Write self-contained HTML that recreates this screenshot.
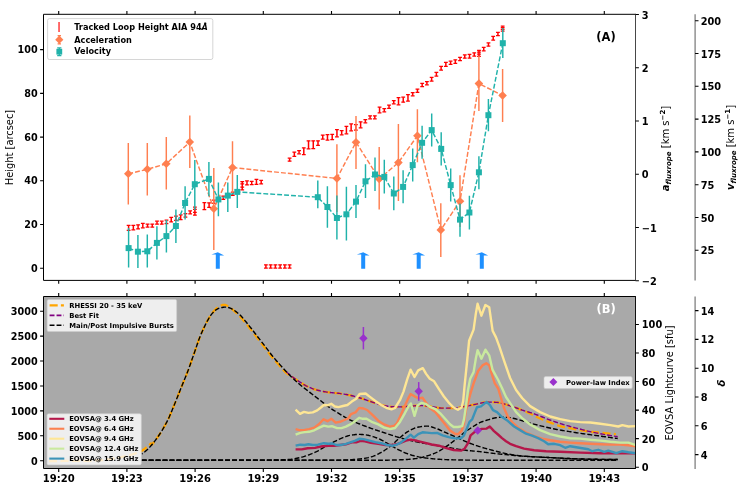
<!DOCTYPE html>
<html><head><meta charset="utf-8"><title>Figure</title><style>html,body{margin:0;padding:0;background:#fff}svg{display:block}</style></head><body>
<svg width="748" height="491" viewBox="0 0 748 491" font-family="DejaVu Sans, Liberation Sans, sans-serif">
<rect width="748" height="491" fill="#fff"/>
<g stroke="#ff0000" stroke-width="1.4" fill="none">
<path d="M128.6,225.25V230.45M133.34,225.35V229.95M138.07,224.75V228.95M142.81,223.35V227.75M147.54,224.05V227.05M152.28,224.05V227.05M157.01,221.15V224.15M161.75,221.15V224.15M166.48,220.05V223.65M171.22,217.35V221.95M175.95,216.15V220.35M180.69,214.95V219.55M185.42,213.65V217.05M190.16,210.95V213.95M194.89,207.15V215.15M204.36,202.55V209.55M209.09,202.85V207.45M213.83,200.15V203.35M218.56,198.15V201.35M223.3,196.15V199.35M228.03,194.15V197.35M232.77,192.15V195.35M237.5,190.15V193.35M242.24,181.55V189.95M246.98,180.95V184.95M251.71,181.35V184.55M256.44,179.45V184.25M261.18,180.35V183.95M294.33,152.05V156.25M299.06,150.65V153.85M303.8,147.85V154.65M308.53,140.75V148.95M313.26,140.75V148.55M318,140.75V145.35M322.74,135.05V139.05M327.47,134.65V140.05M332.21,134.25V139.65M336.94,129.55V136.75M341.68,130.65V134.85M346.41,126.35V133.75M351.14,123.95V130.75M355.88,124.65V130.05M360.62,121.75V127.75M365.35,119.65V122.85M370.09,115.75V118.75M374.82,115.75V118.75M379.56,107.05V112.85M384.29,108.55V111.75M389.02,105.05V108.25M393.76,100.55V103.75M398.5,97.65V104.85M403.23,97.15V102.15M407.97,94.65V101.05M412.7,92.55V95.75M417.44,89.05V92.25M422.17,83.45V86.65M426.9,81.65V84.85M431.64,77.45V81.05M436.38,72.45V76.05M441.11,66.45V70.05M445.85,62.25V66.45M450.58,61.15V64.35M455.32,59.85V63.45M460.05,57.35V60.55M464.78,54.95V58.15M469.52,54.45V58.05M474.25,52.85V56.05M478.99,50.25V56.25M483.73,47.45V50.85M488.46,42.95V46.15M493.2,36.45V40.05M497.93,32.25V35.65M502.66,26.15V31.15M289.6,158.2V161.2M502.66,27.7V29.3M478.99,52V54M194.89,209.4V212.4M242.24,183.9V187.1M265.91,264.8V268M270.65,264.8V268M275.38,264.8V268M280.12,264.8V268M284.86,264.8V268M289.59,264.8V268" stroke-width="1.5"/>
<path d="M126.7,225.25h3.8M126.7,230.45h3.8M131.44,225.35h3.8M131.44,229.95h3.8M136.17,224.75h3.8M136.17,228.95h3.8M140.91,223.35h3.8M140.91,227.75h3.8M145.64,224.05h3.8M145.64,227.05h3.8M150.38,224.05h3.8M150.38,227.05h3.8M155.11,221.15h3.8M155.11,224.15h3.8M159.84,221.15h3.8M159.84,224.15h3.8M164.58,220.05h3.8M164.58,223.65h3.8M169.31,217.35h3.8M169.31,221.95h3.8M174.05,216.15h3.8M174.05,220.35h3.8M178.78,214.95h3.8M178.78,219.55h3.8M183.52,213.65h3.8M183.52,217.05h3.8M188.25,210.95h3.8M188.25,213.95h3.8M192.99,207.15h3.8M192.99,215.15h3.8M202.46,202.55h3.8M202.46,209.55h3.8M207.19,202.85h3.8M207.19,207.45h3.8M211.93,200.15h3.8M211.93,203.35h3.8M216.66,198.15h3.8M216.66,201.35h3.8M221.4,196.15h3.8M221.4,199.35h3.8M226.13,194.15h3.8M226.13,197.35h3.8M230.87,192.15h3.8M230.87,195.35h3.8M235.6,190.15h3.8M235.6,193.35h3.8M240.34,181.55h3.8M240.34,189.95h3.8M245.08,180.95h3.8M245.08,184.95h3.8M249.81,181.35h3.8M249.81,184.55h3.8M254.54,179.45h3.8M254.54,184.25h3.8M259.28,180.35h3.8M259.28,183.95h3.8M292.43,152.05h3.8M292.43,156.25h3.8M297.16,150.65h3.8M297.16,153.85h3.8M301.9,147.85h3.8M301.9,154.65h3.8M306.63,140.75h3.8M306.63,148.95h3.8M311.37,140.75h3.8M311.37,148.55h3.8M316.1,140.75h3.8M316.1,145.35h3.8M320.84,135.05h3.8M320.84,139.05h3.8M325.57,134.65h3.8M325.57,140.05h3.8M330.31,134.25h3.8M330.31,139.65h3.8M335.04,129.55h3.8M335.04,136.75h3.8M339.78,130.65h3.8M339.78,134.85h3.8M344.51,126.35h3.8M344.51,133.75h3.8M349.25,123.95h3.8M349.25,130.75h3.8M353.98,124.65h3.8M353.98,130.05h3.8M358.72,121.75h3.8M358.72,127.75h3.8M363.45,119.65h3.8M363.45,122.85h3.8M368.19,115.75h3.8M368.19,118.75h3.8M372.92,115.75h3.8M372.92,118.75h3.8M377.66,107.05h3.8M377.66,112.85h3.8M382.39,108.55h3.8M382.39,111.75h3.8M387.12,105.05h3.8M387.12,108.25h3.8M391.86,100.55h3.8M391.86,103.75h3.8M396.6,97.65h3.8M396.6,104.85h3.8M401.33,97.15h3.8M401.33,102.15h3.8M406.07,94.65h3.8M406.07,101.05h3.8M410.8,92.55h3.8M410.8,95.75h3.8M415.54,89.05h3.8M415.54,92.25h3.8M420.27,83.45h3.8M420.27,86.65h3.8M425,81.65h3.8M425,84.85h3.8M429.74,77.45h3.8M429.74,81.05h3.8M434.48,72.45h3.8M434.48,76.05h3.8M439.21,66.45h3.8M439.21,70.05h3.8M443.95,62.25h3.8M443.95,66.45h3.8M448.68,61.15h3.8M448.68,64.35h3.8M453.42,59.85h3.8M453.42,63.45h3.8M458.15,57.35h3.8M458.15,60.55h3.8M462.88,54.95h3.8M462.88,58.15h3.8M467.62,54.45h3.8M467.62,58.05h3.8M472.36,52.85h3.8M472.36,56.05h3.8M477.09,50.25h3.8M477.09,56.25h3.8M481.83,47.45h3.8M481.83,50.85h3.8M486.56,42.95h3.8M486.56,46.15h3.8M491.3,36.45h3.8M491.3,40.05h3.8M496.03,32.25h3.8M496.03,35.65h3.8M500.76,26.15h3.8M500.76,31.15h3.8M287.7,158.2h3.8M287.7,161.2h3.8M500.76,27.7h3.8M500.76,29.3h3.8M477.09,52h3.8M477.09,54h3.8M192.99,209.4h3.8M192.99,212.4h3.8M240.34,183.9h3.8M240.34,187.1h3.8M264.01,264.8h3.8M264.01,268h3.8M268.75,264.8h3.8M268.75,268h3.8M273.49,264.8h3.8M273.49,268h3.8M278.22,264.8h3.8M278.22,268h3.8M282.96,264.8h3.8M282.96,268h3.8M287.69,264.8h3.8M287.69,268h3.8" stroke-width="1.25"/>
</g>
<g stroke="#ff7f50" stroke-width="1.45" fill="none">
<path d="M128.3,143V204.5M147.3,143V195.5M166.3,137V189.5M189.8,115.5V168M213.8,168V250M232.5,141.3V193.8M336.9,144.2V212M356,116V169.1M379.2,147.1V209.4M398.4,124V200.9M417.4,109.3V162.3M440.8,203.2V257M460,175.2V227M478.9,56V111M502.6,69V122"/>
<path d="M128.3,173.8 L147.3,169.3 L166.3,163.8 L189.8,142 L213.8,208.8 L232.5,167.6 L336.9,178.4 L356,142.2 L379.2,178.9 L398.4,162.6 L417.4,135.7 L440.8,229.9 L460,201.2 L478.9,83.6 L502.6,95.5" fill="none" stroke="#ff7f50" stroke-width="1.45" stroke-dasharray="4.9,2.05" />
</g>
<g fill="#ff7f50">
<path d="M128.3,169.5L132.6,173.8L128.3,178.1L124,173.8Z"/>
<path d="M147.3,165L151.6,169.3L147.3,173.6L143,169.3Z"/>
<path d="M166.3,159.5L170.6,163.8L166.3,168.1L162,163.8Z"/>
<path d="M189.8,137.7L194.1,142L189.8,146.3L185.5,142Z"/>
<path d="M213.8,204.5L218.1,208.8L213.8,213.1L209.5,208.8Z"/>
<path d="M232.5,163.3L236.8,167.6L232.5,171.9L228.2,167.6Z"/>
<path d="M336.9,174.1L341.2,178.4L336.9,182.7L332.6,178.4Z"/>
<path d="M356,137.9L360.3,142.2L356,146.5L351.7,142.2Z"/>
<path d="M379.2,174.6L383.5,178.9L379.2,183.2L374.9,178.9Z"/>
<path d="M398.4,158.3L402.7,162.6L398.4,166.9L394.1,162.6Z"/>
<path d="M417.4,131.4L421.7,135.7L417.4,140L413.1,135.7Z"/>
<path d="M440.8,225.6L445.1,229.9L440.8,234.2L436.5,229.9Z"/>
<path d="M460,196.9L464.3,201.2L460,205.5L455.7,201.2Z"/>
<path d="M478.9,79.3L483.2,83.6L478.9,87.9L474.6,83.6Z"/>
<path d="M502.6,91.2L506.9,95.5L502.6,99.8L498.3,95.5Z"/>
</g>
<g stroke="#20b2aa" stroke-width="1.45" fill="none">
<path d="M128.6,228V267.5M137.9,235V268M147.3,234.5V267.5M156.9,226.3V259.5M166.4,220V252.5M175.9,209.5V243M185.1,186.3V219.5M194.8,160V210M208.9,162V196.3M218.4,182.5V216.3M227.8,182.5V212M237.3,175V208M317.8,180.4V208.2M327.4,186.2V227.8M336.9,195.5V239.5M346.4,186.7V240.5M356,185V218M365.5,164.2V197.9M375,157.4V191.1M384.3,159.8V193.5M393.8,176.4V210.2M403.1,170.3V203.3M412.7,148.4V181.5M422.1,125.7V158.7M431.7,113.4V146.4M441.2,132.3V165.5M450.7,168.4V201.4M460,203.6V236.8M469.4,195.8V229.4M478.9,156.2V189.2M488.4,99V131.3M502.8,28V58"/>
<path d="M128.6,248.1 L137.9,251.7 L147.3,251.3 L156.9,242.9 L166.4,236.1 L175.9,226 L185.1,203 L194.8,184.2 L208.9,178.9 L218.4,199.4 L227.8,195.6 L237.3,191.9 L317.8,197.2 L327.4,207 L336.9,218 L346.4,214.3 L356,201.6 L365.5,181.3 L375,174.5 L384.3,176.9 L393.8,193.5 L403.1,186.9 L412.7,165.1 L422.1,142.8 L431.7,130.1 L441.2,148.9 L450.7,185.1 L460,219.6 L469.4,212.5 L478.9,172.3 L488.4,115.2 L502.8,43.2" fill="none" stroke="#20b2aa" stroke-width="1.45" stroke-dasharray="4.9,2.05" />
</g>
<g fill="#20b2aa">
<rect x="125.6" y="245.1" width="6" height="6"/>
<rect x="134.9" y="248.7" width="6" height="6"/>
<rect x="144.3" y="248.3" width="6" height="6"/>
<rect x="153.9" y="239.9" width="6" height="6"/>
<rect x="163.4" y="233.1" width="6" height="6"/>
<rect x="172.9" y="223" width="6" height="6"/>
<rect x="182.1" y="200" width="6" height="6"/>
<rect x="191.8" y="181.2" width="6" height="6"/>
<rect x="205.9" y="175.9" width="6" height="6"/>
<rect x="215.4" y="196.4" width="6" height="6"/>
<rect x="224.8" y="192.6" width="6" height="6"/>
<rect x="234.3" y="188.9" width="6" height="6"/>
<rect x="314.8" y="194.2" width="6" height="6"/>
<rect x="324.4" y="204" width="6" height="6"/>
<rect x="333.9" y="215" width="6" height="6"/>
<rect x="343.4" y="211.3" width="6" height="6"/>
<rect x="353" y="198.6" width="6" height="6"/>
<rect x="362.5" y="178.3" width="6" height="6"/>
<rect x="372" y="171.5" width="6" height="6"/>
<rect x="381.3" y="173.9" width="6" height="6"/>
<rect x="390.8" y="190.5" width="6" height="6"/>
<rect x="400.1" y="183.9" width="6" height="6"/>
<rect x="409.7" y="162.1" width="6" height="6"/>
<rect x="419.1" y="139.8" width="6" height="6"/>
<rect x="428.7" y="127.1" width="6" height="6"/>
<rect x="438.2" y="145.9" width="6" height="6"/>
<rect x="447.7" y="182.1" width="6" height="6"/>
<rect x="457" y="216.6" width="6" height="6"/>
<rect x="466.4" y="209.5" width="6" height="6"/>
<rect x="475.9" y="169.3" width="6" height="6"/>
<rect x="485.4" y="112.2" width="6" height="6"/>
<rect x="499.8" y="40.2" width="6" height="6"/>
</g>
<path d="M215.8,268.8V254.6H211.4L217.8,252.3L224.2,255.6H219.8V268.8Z" fill="#1e90ff"/>
<path d="M361.2,268.8V254.6H356.8L363.2,252.3L369.6,255.6H365.2V268.8Z" fill="#1e90ff"/>
<path d="M416.7,268.8V254.6H412.3L418.7,252.3L425.1,255.6H420.7V268.8Z" fill="#1e90ff"/>
<path d="M479.8,268.8V254.6H475.4L481.8,252.3L488.2,255.6H483.8V268.8Z" fill="#1e90ff"/>
<path d="M635.5,14.3H43.5V280.4H635.5" fill="none" stroke="#000" stroke-width="1"/>
<path d="M635.5,13.8V280.9" fill="none" stroke="#333" stroke-width="0.9"/>
<text x="37.6" y="271.9" font-size="9.65" font-weight="bold" text-anchor="end" fill="#000" >0</text>
<text x="37.6" y="228.16" font-size="9.65" font-weight="bold" text-anchor="end" fill="#000" >20</text>
<text x="37.6" y="184.42" font-size="9.65" font-weight="bold" text-anchor="end" fill="#000" >40</text>
<text x="37.6" y="140.68" font-size="9.65" font-weight="bold" text-anchor="end" fill="#000" >60</text>
<text x="37.6" y="96.94" font-size="9.65" font-weight="bold" text-anchor="end" fill="#000" >80</text>
<text x="37.6" y="53.2" font-size="9.65" font-weight="bold" text-anchor="end" fill="#000" >100</text>
<text x="641.8" y="284.8" font-size="9.8" font-weight="bold" text-anchor="start" fill="#000" >−2</text>
<text x="641.8" y="231.55" font-size="9.8" font-weight="bold" text-anchor="start" fill="#000" >−1</text>
<text x="641.8" y="178.3" font-size="9.8" font-weight="bold" text-anchor="start" fill="#000" >0</text>
<text x="641.8" y="125.05" font-size="9.8" font-weight="bold" text-anchor="start" fill="#000" >1</text>
<text x="641.8" y="71.8" font-size="9.8" font-weight="bold" text-anchor="start" fill="#000" >2</text>
<text x="641.8" y="18.55" font-size="9.8" font-weight="bold" text-anchor="start" fill="#000" >3</text>
<path d="M58.7,14.3v-3.4M58.7,280.4v3.4M126.9,14.3v-3.4M126.9,280.4v3.4M195.1,14.3v-3.4M195.1,280.4v3.4M263.3,14.3v-3.4M263.3,280.4v3.4M331.5,14.3v-3.4M331.5,280.4v3.4M399.7,14.3v-3.4M399.7,280.4v3.4M467.9,14.3v-3.4M467.9,280.4v3.4M536.1,14.3v-3.4M536.1,280.4v3.4M604.3,14.3v-3.4M604.3,280.4v3.4M43.5,268.3h-3.4M43.5,224.56h-3.4M43.5,180.82h-3.4M43.5,137.08h-3.4M43.5,93.34h-3.4M43.5,49.6h-3.4M635.5,280.8h3.4M635.5,227.55h3.4M635.5,174.3h3.4M635.5,121.05h3.4M635.5,67.8h3.4M635.5,14.55h3.4" stroke="#000" stroke-width="1.1" fill="none"/>
<path d="M695.1,14.3V280.4" stroke="#808080" stroke-width="1.3"/>
<text x="700.7" y="254.3" font-size="9.8" font-weight="bold" text-anchor="start" fill="#000" >25</text>
<text x="700.7" y="221.5" font-size="9.8" font-weight="bold" text-anchor="start" fill="#000" >50</text>
<text x="700.7" y="188.7" font-size="9.8" font-weight="bold" text-anchor="start" fill="#000" >75</text>
<text x="700.7" y="155.9" font-size="9.8" font-weight="bold" text-anchor="start" fill="#000" >100</text>
<text x="700.7" y="123.1" font-size="9.8" font-weight="bold" text-anchor="start" fill="#000" >125</text>
<text x="700.7" y="90.3" font-size="9.8" font-weight="bold" text-anchor="start" fill="#000" >150</text>
<text x="700.7" y="57.5" font-size="9.8" font-weight="bold" text-anchor="start" fill="#000" >175</text>
<text x="700.7" y="24.7" font-size="9.8" font-weight="bold" text-anchor="start" fill="#000" >200</text>
<path d="M695.1,250.3h3.4M695.1,217.5h3.4M695.1,184.7h3.4M695.1,151.9h3.4M695.1,119.1h3.4M695.1,86.3h3.4M695.1,53.5h3.4M695.1,20.7h3.4" stroke="#000" stroke-width="1.1" fill="none"/>
<text transform="translate(12.5,147.5) rotate(-90)" font-size="9.9" text-anchor="middle" font-weight="normal">Height [arcsec]</text>
<text transform="translate(668.8,148.5) rotate(-90)" font-size="10" text-anchor="middle"><tspan font-weight="bold" font-style="italic">a</tspan><tspan font-weight="bold" font-style="italic" font-size="7" dy="2">fluxrope</tspan><tspan dy="-2" font-weight="normal"> [km s</tspan><tspan font-weight="bold" font-size="7" dy="-4">−2</tspan><tspan dy="4" font-weight="normal">]</tspan></text>
<text transform="translate(733.8,147.5) rotate(-90)" font-size="10" text-anchor="middle"><tspan font-weight="bold" font-style="italic">v</tspan><tspan font-weight="bold" font-style="italic" font-size="7" dy="2">fluxrope</tspan><tspan dy="-2" font-weight="normal"> [km s</tspan><tspan font-weight="bold" font-size="7" dy="-4">−1</tspan><tspan dy="4" font-weight="normal">]</tspan></text>
<text x="596.3" y="41.2" font-size="11.5" font-weight="bold" text-anchor="start" fill="#000" >(A)</text>
<rect x="47.6" y="18.6" width="165.2" height="40.9" rx="1.8" fill="#fff" fill-opacity="0.8" stroke="#ccc" stroke-width="0.8"/>
<path d="M59.05,22V31.9" stroke="#ff5c5c" stroke-width="1.8"/>
<path d="M59.3,35.6V43.9M57.6,35.6h3.4M57.6,43.9h3.4" stroke="#ff7f50" stroke-width="1.2" fill="none"/>
<path d="M59.3,35.6L63.4,39.7L59.3,43.8L55.2,39.7Z" fill="#ff7f50"/>
<path d="M59.3,47.8V55.6M57.2,47.8h4.2M57.2,55.6h4.2" stroke="#20b2aa" stroke-width="1.2" fill="none"/>
<rect x="56.4" y="48.8" width="5.8" height="5.8" fill="#20b2aa"/>
<text x="74.2" y="29.6" font-size="8.2" font-weight="bold" text-anchor="start" fill="#000" >Tracked Loop Height AIA 94<tspan font-style="italic">Å</tspan></text>
<text x="74.2" y="42.9" font-size="8.2" font-weight="bold" text-anchor="start" fill="#000" >Acceleration</text>
<text x="74.2" y="54.4" font-size="8.2" font-weight="bold" text-anchor="start" fill="#000" >Velocity</text>
<rect x="43.5" y="296.5" width="592" height="172" fill="#a9a9a9"/>
<clipPath id="c2"><rect x="43.5" y="296.5" width="592" height="172"/></clipPath>
<g clip-path="url(#c2)" fill="none" stroke-linejoin="round">
<path d="M49,461 L50.73,461 L52.46,461 L54.19,461 L55.92,460.99 L57.64,460.99 L59.37,460.98 L61.1,460.98 L62.83,460.97 L64.56,460.96 L66.29,460.95 L68.02,460.94 L69.75,460.93 L71.47,460.92 L73.2,460.91 L74.93,460.9 L76.66,460.88 L78.39,460.87 L80.12,460.85 L81.85,460.83 L83.58,460.82 L85.31,460.8 L87.03,460.77 L88.76,460.73 L90.49,460.67 L92.22,460.61 L93.95,460.53 L95.68,460.45 L97.41,460.36 L99.14,460.26 L100.86,460.14 L102.59,460 L104.32,459.82 L106.05,459.63 L107.78,459.43 L109.51,459.21 L111.24,458.98 L112.97,458.73 L114.69,458.46 L116.42,458.15 L118.15,457.82 L119.88,457.47 L121.61,457.1 L123.34,456.72 L125.07,456.33 L126.8,455.92 L128.53,455.48 L130.25,455.02 L131.98,454.51 L133.71,453.98 L135.44,453.43 L137.17,452.84 L138.9,452.18 L140.63,451.43 L142.36,450.51 L144.08,449.3 L145.81,447.95 L147.54,446.54 L149.27,445.02 L151,443.4 L151.73,444.86 L152.88,443.46 L154.02,442.03 L155.17,440.56 L156.32,439.02 L157.46,437.42 L158.61,435.76 L159.76,434.05 L160.9,432.27 L162.05,430.43 L163.19,428.52 L164.34,426.53 L165.49,424.47 L166.63,422.31 L167.78,420.05 L168.92,417.64 L170.07,415.07 L171.22,412.36 L172.36,409.58 L173.51,406.77 L174.65,403.97 L175.8,401.15 L176.95,398.29 L178.09,395.39 L179.24,392.49 L180.38,389.59 L181.53,386.73 L182.68,383.92 L183.82,381.16 L184.97,378.39 L186.12,375.58 L187.26,372.69 L188.41,369.67 L189.55,366.48 L190.7,363.18 L191.85,359.9 L192.99,356.63 L194.14,353.36 L195.28,350.07 L196.43,346.69 L197.58,343.29 L198.72,340.03 L199.87,337.06 L201.01,334.29 L202.16,331.66 L203.31,329.13 L204.45,326.67 L205.6,324.27 L206.75,321.99 L207.89,319.9 L209.04,317.97 L210.18,316.15 L211.33,314.49 L212.42,313.04 L213.45,311.7 L214.47,310.45 L215.49,309.35 L216.51,308.44 L217.53,307.59 L218.56,306.83 L219.58,306.21 L220.6,305.7 L221.62,305.28 L222.64,304.97 L223.78,304.83 L224.93,304.87 L226.07,305.17 L227.22,305.71 L228.37,306.38 L229.51,307.1 L230.66,307.97 L231.81,308.93 L232.95,309.88 L234.1,310.83 L235.24,311.8 L236.39,312.81 L237.54,313.85 L238.68,314.93 L239.83,316.12 L240.97,317.4 L242.12,318.76 L243.27,320.15 L244.41,321.53 L245.56,322.92 L246.7,324.34 L247.85,325.78 L249,327.23 L250.14,328.68 L251.29,330.14 L252.43,331.62 L253.58,333.1 L254.73,334.59 L255.87,336.08 L257.02,337.57 L258.17,339.05 L259.31,340.53 L260.46,342.01 L261.6,343.5 L262.75,344.98 L263.9,346.47 L265.04,347.97 L266.19,349.5 L267.33,351.03 L268.48,352.56 L269.63,354.06 L270.77,355.52 L271.92,356.93 L273.06,358.29 L274.21,359.62 L275.36,360.92 L276.5,362.21 L277.65,363.51 L278.79,364.83 L279.94,366.17 L281.09,367.5 L282.23,368.8 L283.38,370.07 L284.53,371.26 L285.67,372.38 L286.84,373.41 L288.17,374.37 L289.5,375.28 L290.83,376.16 L292.17,377.03 L293.5,377.88 L294.83,378.73 L296.14,379.55 L297.29,380.36 L298.43,381.14 L299.58,381.89 L300.72,382.63 L301.87,383.35 L303.02,384.05 L304.16,384.73 L305.31,385.38 L306.46,385.98 L307.6,386.54 L308.75,387.07 L309.89,387.57 L311.04,388.05 L312.19,388.49 L313.33,388.91 L314.48,389.29 L315.62,389.65 L316.77,389.98 L317.92,390.3 L319.06,390.59 L320.21,390.87 L321.35,391.11 L322.5,391.34 L323.65,391.55 L324.79,391.76 L325.94,391.95 L327.08,392.12 L328.23,392.29 L329.38,392.44 L330.52,392.57 L331.67,392.69 L332.82,392.79 L333.96,392.89 L335.11,392.98 L336.25,393.08 L337.4,393.19 L338.55,393.32 L339.69,393.46 L340.84,393.62 L341.98,393.79 L343.13,393.97 L344.28,394.16 L345.42,394.36 L346.57,394.57 L347.71,394.79 L348.86,395.01 L350.01,395.25 L351.15,395.51 L352.3,395.78 L353.44,396.07 L354.59,396.37 L355.74,396.68 L356.88,397 L358.03,397.32 L359.18,397.67 L360.32,398.03 L361.47,398.4 L362.61,398.78 L363.76,399.17 L364.91,399.56 L366.05,399.95 L367.2,400.33 L368.34,400.73 L369.49,401.13 L370.64,401.53 L371.78,401.93 L372.93,402.33 L374.07,402.71 L375.22,403.08 L376.37,403.44 L377.51,403.8 L378.66,404.17 L379.81,404.52 L380.95,404.85 L382.1,405.16 L383.24,405.43 L384.39,405.65 L385.54,405.87 L386.68,406.07 L387.83,406.27 L388.97,406.45 L390.12,406.59 L391.27,406.71 L392.41,406.78 L393.56,406.82 L394.7,406.84 L395.85,406.86 L397,406.88 L398.14,406.89 L399.29,406.9 L400.43,406.9 L401.58,406.87 L402.73,406.81 L403.87,406.73 L405.02,406.64 L406.17,406.53 L407.31,406.43 L408.46,406.32 L409.6,406.23 L410.75,406.14 L411.9,406.05 L413.04,405.94 L414.19,405.84 L415.33,405.73 L416.48,405.64 L417.63,405.57 L418.77,405.52 L419.92,405.5 L421.06,405.52 L422.21,405.57 L423.36,405.66 L424.5,405.78 L425.65,405.91 L426.79,406.06 L427.94,406.21 L429.09,406.36 L430.23,406.51 L431.38,406.65 L432.53,406.81 L433.67,407 L434.82,407.2 L435.96,407.41 L437.11,407.61 L438.26,407.79 L439.4,407.94 L440.55,408.05 L441.69,408.1 L442.84,408.1 L443.99,408.1 L445.13,408.1 L446.28,408.1 L447.42,408.1 L448.57,408.1 L449.72,408.1 L450.86,408.1 L452.01,408.1 L453.15,408.1 L454.3,408.06 L455.45,407.98 L456.59,407.85 L457.74,407.69 L458.89,407.51 L460.03,407.31 L461.18,407.1 L462.32,406.89 L463.47,406.69 L464.62,406.5 L465.76,406.29 L466.91,406.08 L468.05,405.85 L469.2,405.61 L470.35,405.37 L471.49,405.12 L472.64,404.88 L473.78,404.64 L474.93,404.41 L476.08,404.18 L477.22,403.93 L478.37,403.66 L479.52,403.4 L480.66,403.15 L481.81,402.91 L482.95,402.69 L484.1,402.51 L485.25,402.37 L486.39,402.27 L487.54,402.19 L488.68,402.13 L489.83,402.1 L490.98,402.11 L492.12,402.14 L493.27,402.18 L494.41,402.24 L495.56,402.31 L496.71,402.4 L497.85,402.49 L499,402.62 L500.14,402.83 L501.29,403.11 L502.44,403.43 L503.58,403.77 L504.73,404.13 L505.88,404.46 L507.02,404.79 L508.17,405.14 L509.31,405.5 L510.46,405.87 L511.61,406.25 L512.75,406.64 L513.9,407.03 L515.04,407.43 L516.19,407.84 L517.34,408.26 L518.48,408.69 L519.63,409.13 L520.77,409.58 L521.92,410.03 L523.07,410.49 L524.21,410.95 L525.36,411.43 L526.5,411.91 L527.65,412.41 L528.8,412.91 L529.94,413.43 L531.09,413.97 L532.24,414.53 L533.38,415.12 L534.53,415.72 L535.67,416.32 L536.82,416.92 L537.97,417.49 L539.11,418.05 L540.26,418.57 L541.4,419.06 L542.55,419.54 L543.7,420.01 L544.84,420.46 L545.99,420.91 L547.13,421.34 L548.28,421.78 L549.43,422.21 L550.57,422.64 L551.72,423.09 L552.86,423.54 L554.01,423.99 L555.16,424.43 L556.3,424.86 L557.45,425.27 L558.6,425.64 L559.74,425.98 L560.89,426.27 L562.03,426.54 L563.18,426.78 L564.33,427.01 L565.47,427.22 L566.62,427.43 L567.76,427.64 L568.91,427.85 L570.06,428.07 L571.2,428.3 L572.35,428.54 L573.49,428.78 L574.64,429.01 L575.79,429.25 L576.93,429.48 L578.08,429.71 L579.23,429.92 L580.37,430.13 L581.52,430.33 L582.66,430.53 L583.81,430.73 L584.96,430.92 L586.1,431.11 L587.25,431.28 L588.39,431.45 L589.54,431.6 L590.69,431.75 L591.83,431.88 L592.98,432 L594.12,432.12 L595.27,432.23 L596.42,432.33 L597.56,432.44 L598.71,432.55 L599.85,432.66 L601,432.77 L602.15,432.89 L603.29,433.01 L604.44,433.13 L605.59,433.25 L606.73,433.37 L607.88,433.48 L609.02,433.59 L610.17,433.69 L611.32,433.78 L612.46,433.87 L613.61,433.95 L614.75,434.03 L615.9,434.1" fill="none" stroke="#ffa500" stroke-width="2.3" stroke-dasharray="8.1,3.4" />
<path d="M286.59,372.02 L287.74,373.08 L288.89,374.06 L290.04,374.99 L291.19,375.88 L292.34,376.75 L293.48,377.61 L294.63,378.47 L295.78,379.3 L296.93,380.11 L298.08,380.9 L299.23,381.67 L300.38,382.41 L301.53,383.14 L302.68,383.85 L303.83,384.54 L304.98,385.2 L306.13,385.82 L307.28,386.39 L308.43,386.92 L309.58,387.44 L310.73,387.92 L311.88,388.38 L313.03,388.8 L314.18,389.19 L315.33,389.56 L316.48,389.9 L317.63,390.22 L318.78,390.52 L319.93,390.8 L321.08,391.05 L322.23,391.29 L323.38,391.5 L324.53,391.71 L325.68,391.9 L326.83,392.08 L327.98,392.25 L329.13,392.4 L330.28,392.54 L331.42,392.66 L332.57,392.77 L333.72,392.87 L334.87,392.96 L336.02,393.06 L337.17,393.17 L338.32,393.29 L339.47,393.43 L340.62,393.59 L341.77,393.76 L342.92,393.93 L344.07,394.12 L345.22,394.32 L346.37,394.53 L347.52,394.75 L348.67,394.97 L349.82,395.21 L350.97,395.47 L352.12,395.74 L353.27,396.03 L354.42,396.32 L355.57,396.63 L356.72,396.95 L357.87,397.28 L359.02,397.62 L360.17,397.98 L361.32,398.35 L362.47,398.73 L363.62,399.12 L364.77,399.52 L365.92,399.9 L367.07,400.29 L368.22,400.68 L369.36,401.09 L370.51,401.49 L371.66,401.89 L372.81,402.29 L373.96,402.67 L375.11,403.04 L376.26,403.4 L377.41,403.77 L378.56,404.14 L379.71,404.49 L380.86,404.83 L382.01,405.14 L383.16,405.41 L384.31,405.64 L385.46,405.85 L386.61,406.06 L387.76,406.26 L388.91,406.44 L390.06,406.59 L391.21,406.71 L392.36,406.78 L393.51,406.81 L394.66,406.84 L395.81,406.86 L396.96,406.88 L398.11,406.89 L399.26,406.9 L400.41,406.9 L401.56,406.87 L402.71,406.81 L403.86,406.73 L405.01,406.64 L406.16,406.53 L407.31,406.43 L408.45,406.32 L409.6,406.23 L410.75,406.14 L411.9,406.05 L413.05,405.94 L414.2,405.83 L415.35,405.73 L416.5,405.64 L417.65,405.57 L418.8,405.52 L419.95,405.5 L421.1,405.52 L422.25,405.58 L423.4,405.67 L424.55,405.78 L425.7,405.92 L426.85,406.06 L428,406.22 L429.15,406.37 L430.3,406.52 L431.45,406.65 L432.6,406.82 L433.75,407.01 L434.9,407.22 L436.05,407.43 L437.2,407.63 L438.35,407.81 L439.5,407.95 L440.65,408.05 L441.8,408.1 L442.95,408.1 L444.1,408.1 L445.25,408.1 L446.39,408.1 L447.54,408.1 L448.69,408.1 L449.84,408.1 L450.99,408.1 L452.14,408.1 L453.29,408.1 L454.44,408.06 L455.59,407.97 L456.74,407.83 L457.89,407.67 L459.04,407.48 L460.19,407.28 L461.34,407.07 L462.49,406.86 L463.64,406.66 L464.79,406.47 L465.94,406.26 L467.09,406.04 L468.24,405.81 L469.39,405.57 L470.54,405.33 L471.69,405.08 L472.84,404.84 L473.99,404.6 L475.14,404.37 L476.29,404.13 L477.44,403.88 L478.59,403.61 L479.74,403.35 L480.89,403.1 L482.04,402.86 L483.19,402.65 L484.33,402.48 L485.48,402.34 L486.63,402.25 L487.78,402.18 L488.93,402.12 L490.08,402.1 L491.23,402.11 L492.38,402.14 L493.53,402.19 L494.68,402.26 L495.83,402.33 L496.98,402.42 L498.13,402.51 L499.28,402.66 L500.43,402.9 L501.58,403.19 L502.73,403.52 L503.88,403.87 L505.03,404.22 L506.18,404.55 L507.33,404.88 L508.48,405.23 L509.63,405.6 L510.78,405.97 L511.93,406.36 L513.08,406.75 L514.23,407.14 L515.38,407.56 L516.53,408 L517.68,408.45 L518.83,408.9 L519.98,409.34 L521.13,409.76 L522.27,410.16 L523.42,410.52 L524.57,410.87 L525.72,411.2 L526.87,411.53 L528.02,411.86 L529.17,412.21 L530.32,412.57 L531.47,412.96 L532.62,413.35 L533.77,413.76 L534.92,414.17 L536.07,414.59 L537.22,415.02 L538.37,415.45 L539.52,415.88 L540.67,416.32 L541.82,416.77 L542.97,417.23 L544.12,417.69 L545.27,418.16 L546.42,418.63 L547.57,419.09 L548.72,419.54 L549.87,419.98 L551.02,420.4 L552.17,420.81 L553.32,421.21 L554.47,421.61 L555.62,422 L556.77,422.38 L557.92,422.76 L559.07,423.14 L560.22,423.5 L561.36,423.87 L562.51,424.23 L563.66,424.58 L564.81,424.93 L565.96,425.28 L567.11,425.62 L568.26,425.95 L569.41,426.28 L570.56,426.6 L571.71,426.91 L572.86,427.22 L574.01,427.52 L575.16,427.81 L576.31,428.11 L577.46,428.4 L578.61,428.69 L579.76,428.99 L580.91,429.28 L582.06,429.59 L583.21,429.9 L584.36,430.21 L585.51,430.51 L586.66,430.81 L587.81,431.1 L588.96,431.39 L590.11,431.66 L591.26,431.91 L592.41,432.16 L593.56,432.4 L594.71,432.63 L595.86,432.85 L597.01,433.07 L598.16,433.29 L599.3,433.51 L600.45,433.73 L601.6,433.95 L602.75,434.16 L603.9,434.37 L605.05,434.58 L606.2,434.79 L607.35,434.99 L608.5,435.19 L609.65,435.39 L610.8,435.59 L611.95,435.78 L613.1,435.97 L614.25,436.16 L615.4,436.34 L616.55,436.52 L617.7,436.7" fill="none" stroke="#800080" stroke-width="1.4" stroke-dasharray="4.9,2.05" />
<path d="M141.72,454 L142.87,453.26 L144.02,452.43 L145.17,451.51 L146.32,450.52 L147.47,449.49 L148.62,448.36 L149.77,447.13 L150.92,445.82 L152.07,444.45 L153.22,443.04 L154.37,441.59 L155.52,440.1 L156.67,438.54 L157.82,436.91 L158.97,435.23 L160.12,433.49 L161.27,431.68 L162.42,429.82 L163.57,427.88 L164.72,425.86 L165.87,423.76 L167.02,421.56 L168.17,419.25 L169.32,416.78 L170.47,414.14 L171.62,411.4 L172.77,408.59 L173.92,405.77 L175.07,402.97 L176.22,400.12 L177.37,397.24 L178.51,394.32 L179.66,391.41 L180.81,388.51 L181.96,385.66 L183.11,382.87 L184.26,380.1 L185.41,377.31 L186.56,374.46 L187.71,371.52 L188.86,368.43 L190.01,365.17 L191.16,361.85 L192.31,358.58 L193.46,355.29 L194.61,352 L195.76,348.68 L196.91,345.26 L198.06,341.89 L199.21,338.73 L200.36,335.85 L201.51,333.14 L202.66,330.55 L203.81,328.05 L204.96,325.6 L206.11,323.24 L207.26,321.04 L208.41,319.04 L209.56,317.16 L210.71,315.43 L211.86,313.91 L213.01,312.59 L214.16,311.38 L215.31,310.34 L216.45,309.53 L217.6,308.9 L218.75,308.36 L219.9,307.96 L221.05,307.7 L222.2,307.48 L223.35,307.3 L224.5,307.17 L225.65,307.1 L226.8,307.15 L227.95,307.39 L229.1,307.74 L230.25,308.14 L231.4,308.64 L232.55,309.29 L233.7,310.03 L234.85,310.79 L236,311.61 L237.15,312.5 L238.3,313.46 L239.45,314.48 L240.6,315.58 L241.75,316.82 L242.9,318.15 L244.05,319.53 L245.2,320.92 L246.35,322.3 L247.5,323.71 L248.65,325.14 L249.8,326.59 L250.95,328.05 L252.1,329.51 L253.25,330.99 L254.39,332.47 L255.54,333.96 L256.69,335.46 L257.84,336.95 L258.99,338.44 L260.14,339.93 L261.29,341.41 L262.44,342.9 L263.59,344.39 L264.74,345.88 L265.89,347.38 L267.04,348.9 L268.19,350.44 L269.34,351.97 L270.49,353.49 L271.64,354.98 L272.79,356.41 L273.94,357.79 L275.09,359.13 L276.24,360.45 L277.39,361.75 L278.54,363.04 L279.69,364.34 L280.84,365.64 L281.99,366.93 L283.14,368.22 L284.29,369.48 L285.44,370.73 L286.59,371.96 L287.74,373.16 L288.89,374.34 L290.04,375.5 L291.19,376.64 L292.34,377.76 L293.48,378.85 L294.63,379.93 L295.78,380.99 L296.93,382.03 L298.08,383.05 L299.23,384.04 L300.38,385 L301.53,385.93 L302.68,386.82 L303.83,387.7 L304.98,388.58 L306.13,389.45 L307.28,390.35 L308.43,391.25 L309.58,392.17 L310.73,393.08 L311.88,394 L313.03,394.9 L314.18,395.79 L315.33,396.67 L316.48,397.54 L317.63,398.4 L318.78,399.27 L319.93,400.15 L321.08,401.06 L322.23,401.98 L323.38,402.91 L324.53,403.83 L325.68,404.74 L326.83,405.62 L327.98,406.46 L329.13,407.27 L330.28,408.06 L331.42,408.82 L332.57,409.56 L333.72,410.3 L334.87,411.02 L336.02,411.73 L337.17,412.45 L338.32,413.16 L339.47,413.88 L340.62,414.6 L341.77,415.31 L342.92,416.01 L344.07,416.7 L345.22,417.37 L346.37,418.02 L347.52,418.64 L348.67,419.24 L349.82,419.8 L350.97,420.34 L352.12,420.87 L353.27,421.38 L354.42,421.88 L355.57,422.36 L356.72,422.84 L357.87,423.3 L359.02,423.77 L360.17,424.23 L361.32,424.69 L362.47,425.14 L363.62,425.58 L364.77,426.02 L365.92,426.45 L367.07,426.88 L368.22,427.3 L369.36,427.72 L370.51,428.13 L371.66,428.54 L372.81,428.95 L373.96,429.35 L375.11,429.74 L376.26,430.13 L377.41,430.52 L378.56,430.9 L379.71,431.28 L380.86,431.66 L382.01,432.03 L383.16,432.41 L384.31,432.78 L385.46,433.15 L386.61,433.53 L387.76,433.91 L388.91,434.3 L390.06,434.68 L391.21,435.07 L392.36,435.45 L393.51,435.83 L394.66,436.2 L395.81,436.56 L396.96,436.92 L398.11,437.26 L399.26,437.59 L400.41,437.91 L401.56,438.22 L402.71,438.52 L403.86,438.82 L405.01,439.11 L406.16,439.4 L407.31,439.68 L408.45,439.96 L409.6,440.24 L410.75,440.5 L411.9,440.77 L413.05,441.03 L414.2,441.28 L415.35,441.53 L416.5,441.78 L417.65,442.02 L418.8,442.26 L419.95,442.49 L421.1,442.72 L422.25,442.95 L423.4,443.17 L424.55,443.38 L425.7,443.6 L426.85,443.8 L428,444.01 L429.15,444.21 L430.3,444.41 L431.45,444.61 L432.6,444.81 L433.75,445 L434.9,445.2 L436.05,445.39 L437.2,445.58 L438.35,445.77 L439.5,445.96 L440.65,446.15 L441.8,446.34 L442.95,446.53 L444.1,446.73 L445.25,446.92 L446.39,447.12 L447.54,447.32 L448.69,447.52 L449.84,447.73 L450.99,447.93 L452.14,448.14 L453.29,448.35 L454.44,448.56 L455.59,448.76 L456.74,448.97 L457.89,449.16 L459.04,449.35 L460.19,449.53 L461.34,449.71 L462.49,449.87 L463.64,450.03 L464.79,450.17 L465.94,450.31 L467.09,450.43 L468.24,450.55 L469.39,450.67 L470.54,450.77 L471.69,450.88 L472.84,450.99 L473.99,451.09 L475.14,451.2 L476.29,451.3 L477.44,451.41 L478.59,451.53 L479.74,451.65 L480.89,451.78 L482.04,451.91 L483.19,452.05 L484.33,452.2 L485.48,452.34 L486.63,452.5 L487.78,452.65 L488.93,452.8 L490.08,452.95 L491.23,453.1 L492.38,453.24 L493.53,453.38 L494.68,453.52 L495.83,453.65 L496.98,453.77 L498.13,453.89 L499.28,454 L500.43,454.11 L501.58,454.22 L502.73,454.32 L503.88,454.43 L505.03,454.53 L506.18,454.63 L507.33,454.74 L508.48,454.85 L509.63,454.95 L510.78,455.07 L511.93,455.19 L513.08,455.31 L514.23,455.43 L515.38,455.56 L516.53,455.68 L517.68,455.79 L518.83,455.9 L519.98,455.99 L521.13,456.07 L522.27,456.15 L523.42,456.23 L524.57,456.29 L525.72,456.36 L526.87,456.42 L528.02,456.49 L529.17,456.55 L530.32,456.61 L531.47,456.67 L532.62,456.74 L533.77,456.8 L534.92,456.85 L536.07,456.91 L537.22,456.97 L538.37,457.03 L539.52,457.08 L540.67,457.14 L541.82,457.19 L542.97,457.25 L544.12,457.3 L545.27,457.36 L546.42,457.41 L547.57,457.47 L548.72,457.53 L549.87,457.58 L551.02,457.64 L552.17,457.7 L553.32,457.76 L554.47,457.82 L555.62,457.88 L556.77,457.95 L557.92,458.01 L559.07,458.07 L560.22,458.13 L561.36,458.19 L562.51,458.25 L563.66,458.31 L564.81,458.37 L565.96,458.42 L567.11,458.47 L568.26,458.52 L569.41,458.57 L570.56,458.61 L571.71,458.66 L572.86,458.7 L574.01,458.74 L575.16,458.78 L576.31,458.82 L577.46,458.86 L578.61,458.9 L579.76,458.94 L580.91,458.97 L582.06,459.01 L583.21,459.04 L584.36,459.07 L585.51,459.1 L586.66,459.13 L587.81,459.15 L588.96,459.18 L590.11,459.2 L591.26,459.22 L592.41,459.23 L593.56,459.25 L594.71,459.27 L595.86,459.29 L597.01,459.31 L598.16,459.33 L599.3,459.34 L600.45,459.36 L601.6,459.37 L602.75,459.39 L603.9,459.4 L605.05,459.42 L606.2,459.43 L607.35,459.44 L608.5,459.45 L609.65,459.46 L610.8,459.47 L611.95,459.48 L613.1,459.49 L614.25,459.49 L615.4,459.5 L616.55,459.5 L617.7,459.5" fill="none" stroke="#000" stroke-width="1.4" stroke-dasharray="4.9,2.05" stroke-dashoffset="3.8"/>
<path d="M141.72,460.3 L142.87,460.3 L144.02,460.3 L145.17,460.3 L146.32,460.3 L147.47,460.3 L148.62,460.3 L149.77,460.3 L150.92,460.3 L152.07,460.3 L153.22,460.3 L154.37,460.3 L155.52,460.3 L156.67,460.3 L157.82,460.3 L158.97,460.3 L160.12,460.3 L161.27,460.3 L162.42,460.3 L163.57,460.3 L164.72,460.3 L165.87,460.3 L167.02,460.3 L168.17,460.3 L169.32,460.3 L170.47,460.3 L171.62,460.3 L172.77,460.3 L173.92,460.3 L175.07,460.3 L176.22,460.3 L177.37,460.3 L178.51,460.3 L179.66,460.3 L180.81,460.3 L181.96,460.3 L183.11,460.3 L184.26,460.3 L185.41,460.3 L186.56,460.3 L187.71,460.3 L188.86,460.3 L190.01,460.3 L191.16,460.3 L192.31,460.3 L193.46,460.3 L194.61,460.3 L195.76,460.3 L196.91,460.3 L198.06,460.3 L199.21,460.3 L200.36,460.3 L201.51,460.3 L202.66,460.3 L203.81,460.3 L204.96,460.3 L206.11,460.3 L207.26,460.3 L208.41,460.3 L209.56,460.3 L210.71,460.3 L211.86,460.3 L213.01,460.3 L214.16,460.3 L215.31,460.3 L216.45,460.3 L217.6,460.3 L218.75,460.3 L219.9,460.3 L221.05,460.3 L222.2,460.3 L223.35,460.3 L224.5,460.3 L225.65,460.3 L226.8,460.3 L227.95,460.3 L229.1,460.3 L230.25,460.3 L231.4,460.3 L232.55,460.3 L233.7,460.3 L234.85,460.3 L236,460.3 L237.15,460.3 L238.3,460.3 L239.45,460.3 L240.6,460.3 L241.75,460.3 L242.9,460.3 L244.05,460.3 L245.2,460.3 L246.35,460.3 L247.5,460.3 L248.65,460.3 L249.8,460.3 L250.95,460.3 L252.1,460.3 L253.25,460.29 L254.39,460.29 L255.54,460.28 L256.69,460.27 L257.84,460.26 L258.99,460.25 L260.14,460.24 L261.29,460.23 L262.44,460.21 L263.59,460.2 L264.74,460.18 L265.89,460.16 L267.04,460.14 L268.19,460.12 L269.34,460.1 L270.49,460.08 L271.64,460.06 L272.79,460.04 L273.94,460.02 L275.09,460 L276.24,459.97 L277.39,459.95 L278.54,459.92 L279.69,459.89 L280.84,459.85 L281.99,459.81 L283.14,459.77 L284.29,459.72 L285.44,459.67 L286.59,459.61 L287.74,459.54 L288.89,459.47 L290.04,459.4 L291.19,459.29 L292.34,459.15 L293.48,458.97 L294.63,458.77 L295.78,458.54 L296.93,458.3 L298.08,458.06 L299.23,457.8 L300.38,457.53 L301.53,457.22 L302.68,456.9 L303.83,456.55 L304.98,456.18 L306.13,455.8 L307.28,455.41 L308.43,455.01 L309.58,454.58 L310.73,454.14 L311.88,453.68 L313.03,453.19 L314.18,452.68 L315.33,452.16 L316.48,451.61 L317.63,451.02 L318.78,450.39 L319.93,449.72 L321.08,449.02 L322.23,448.32 L323.38,447.62 L324.53,446.94 L325.68,446.29 L326.83,445.66 L327.98,445.03 L329.13,444.4 L330.28,443.79 L331.42,443.18 L332.57,442.58 L333.72,441.99 L334.87,441.41 L336.02,440.81 L337.17,440.22 L338.32,439.63 L339.47,439.07 L340.62,438.53 L341.77,438.04 L342.92,437.59 L344.07,437.17 L345.22,436.76 L346.37,436.36 L347.52,435.98 L348.67,435.65 L349.82,435.36 L350.97,435.12 L352.12,434.96 L353.27,434.82 L354.42,434.69 L355.57,434.57 L356.72,434.48 L357.87,434.42 L359.02,434.4 L360.17,434.42 L361.32,434.47 L362.47,434.56 L363.62,434.66 L364.77,434.79 L365.92,434.93 L367.07,435.08 L368.22,435.29 L369.36,435.56 L370.51,435.88 L371.66,436.22 L372.81,436.59 L373.96,436.95 L375.11,437.34 L376.26,437.76 L377.41,438.22 L378.56,438.7 L379.71,439.21 L380.86,439.74 L382.01,440.3 L383.16,440.92 L384.31,441.58 L385.46,442.27 L386.61,442.97 L387.76,443.68 L388.91,444.37 L390.06,445.03 L391.21,445.69 L392.36,446.35 L393.51,447.01 L394.66,447.67 L395.81,448.32 L396.96,448.95 L398.11,449.56 L399.26,450.14 L400.41,450.69 L401.56,451.23 L402.71,451.76 L403.86,452.28 L405.01,452.77 L406.16,453.25 L407.31,453.7 L408.45,454.12 L409.6,454.5 L410.75,454.86 L411.9,455.21 L413.05,455.53 L414.2,455.85 L415.35,456.14 L416.5,456.42 L417.65,456.67 L418.8,456.91 L419.95,457.12 L421.1,457.32 L422.25,457.52 L423.4,457.7 L424.55,457.87 L425.7,458.03 L426.85,458.18 L428,458.31 L429.15,458.42 L430.3,458.53 L431.45,458.64 L432.6,458.74 L433.75,458.85 L434.9,458.94 L436.05,459.04 L437.2,459.12 L438.35,459.21 L439.5,459.29 L440.65,459.36 L441.8,459.43 L442.95,459.5 L444.1,459.55 L445.25,459.61 L446.39,459.65 L447.54,459.69 L448.69,459.72 L449.84,459.75 L450.99,459.78 L452.14,459.81 L453.29,459.83 L454.44,459.86 L455.59,459.89 L456.74,459.91 L457.89,459.94 L459.04,459.96 L460.19,459.98 L461.34,460 L462.49,460.02 L463.64,460.04 L464.79,460.06 L465.94,460.08 L467.09,460.1 L468.24,460.11 L469.39,460.13 L470.54,460.14 L471.69,460.15 L472.84,460.16 L473.99,460.17 L475.14,460.18 L476.29,460.19 L477.44,460.19 L478.59,460.2 L479.74,460.2 L480.89,460.2 L482.04,460.2 L483.19,460.21 L484.33,460.21 L485.48,460.21 L486.63,460.21 L487.78,460.21 L488.93,460.21 L490.08,460.22 L491.23,460.22 L492.38,460.22 L493.53,460.22 L494.68,460.22 L495.83,460.22 L496.98,460.23 L498.13,460.23 L499.28,460.23 L500.43,460.23 L501.58,460.23 L502.73,460.23 L503.88,460.24 L505.03,460.24 L506.18,460.24 L507.33,460.24 L508.48,460.24 L509.63,460.24 L510.78,460.24 L511.93,460.25 L513.08,460.25 L514.23,460.25 L515.38,460.25 L516.53,460.25 L517.68,460.25 L518.83,460.25 L519.98,460.25 L521.13,460.26 L522.27,460.26 L523.42,460.26 L524.57,460.26 L525.72,460.26 L526.87,460.26 L528.02,460.26 L529.17,460.26 L530.32,460.26 L531.47,460.27 L532.62,460.27 L533.77,460.27 L534.92,460.27 L536.07,460.27 L537.22,460.27 L538.37,460.27 L539.52,460.27 L540.67,460.27 L541.82,460.27 L542.97,460.28 L544.12,460.28 L545.27,460.28 L546.42,460.28 L547.57,460.28 L548.72,460.28 L549.87,460.28 L551.02,460.28 L552.17,460.28 L553.32,460.28 L554.47,460.28 L555.62,460.28 L556.77,460.28 L557.92,460.28 L559.07,460.29 L560.22,460.29 L561.36,460.29 L562.51,460.29 L563.66,460.29 L564.81,460.29 L565.96,460.29 L567.11,460.29 L568.26,460.29 L569.41,460.29 L570.56,460.29 L571.71,460.29 L572.86,460.29 L574.01,460.29 L575.16,460.29 L576.31,460.29 L577.46,460.29 L578.61,460.29 L579.76,460.29 L580.91,460.29 L582.06,460.3 L583.21,460.3 L584.36,460.3 L585.51,460.3 L586.66,460.3 L587.81,460.3 L588.96,460.3 L590.11,460.3 L591.26,460.3 L592.41,460.3 L593.56,460.3 L594.71,460.3 L595.86,460.3 L597.01,460.3 L598.16,460.3 L599.3,460.3 L600.45,460.3 L601.6,460.3 L602.75,460.3 L603.9,460.3 L605.05,460.3 L606.2,460.3 L607.35,460.3 L608.5,460.3 L609.65,460.3 L610.8,460.3 L611.95,460.3 L613.1,460.3 L614.25,460.3 L615.4,460.3 L616.55,460.3 L617.7,460.3" fill="none" stroke="#000" stroke-width="1.4" stroke-dasharray="4.9,2.05" />
<path d="M141.72,460.3 L142.87,460.3 L144.02,460.3 L145.17,460.3 L146.32,460.3 L147.47,460.3 L148.62,460.3 L149.77,460.3 L150.92,460.3 L152.07,460.3 L153.22,460.3 L154.37,460.3 L155.52,460.3 L156.67,460.3 L157.82,460.3 L158.97,460.3 L160.12,460.3 L161.27,460.3 L162.42,460.3 L163.57,460.3 L164.72,460.3 L165.87,460.3 L167.02,460.3 L168.17,460.3 L169.32,460.3 L170.47,460.3 L171.62,460.3 L172.77,460.3 L173.92,460.3 L175.07,460.3 L176.22,460.3 L177.37,460.3 L178.51,460.3 L179.66,460.3 L180.81,460.3 L181.96,460.3 L183.11,460.3 L184.26,460.3 L185.41,460.3 L186.56,460.3 L187.71,460.3 L188.86,460.3 L190.01,460.3 L191.16,460.3 L192.31,460.3 L193.46,460.3 L194.61,460.3 L195.76,460.3 L196.91,460.3 L198.06,460.3 L199.21,460.3 L200.36,460.3 L201.51,460.3 L202.66,460.3 L203.81,460.3 L204.96,460.3 L206.11,460.3 L207.26,460.3 L208.41,460.3 L209.56,460.3 L210.71,460.3 L211.86,460.3 L213.01,460.3 L214.16,460.3 L215.31,460.3 L216.45,460.3 L217.6,460.3 L218.75,460.3 L219.9,460.3 L221.05,460.3 L222.2,460.3 L223.35,460.3 L224.5,460.3 L225.65,460.3 L226.8,460.3 L227.95,460.3 L229.1,460.3 L230.25,460.3 L231.4,460.3 L232.55,460.3 L233.7,460.3 L234.85,460.3 L236,460.3 L237.15,460.3 L238.3,460.3 L239.45,460.3 L240.6,460.3 L241.75,460.3 L242.9,460.3 L244.05,460.3 L245.2,460.3 L246.35,460.3 L247.5,460.3 L248.65,460.3 L249.8,460.3 L250.95,460.3 L252.1,460.3 L253.25,460.3 L254.39,460.3 L255.54,460.3 L256.69,460.3 L257.84,460.3 L258.99,460.3 L260.14,460.3 L261.29,460.3 L262.44,460.3 L263.59,460.3 L264.74,460.3 L265.89,460.3 L267.04,460.3 L268.19,460.3 L269.34,460.3 L270.49,460.3 L271.64,460.3 L272.79,460.3 L273.94,460.3 L275.09,460.3 L276.24,460.3 L277.39,460.3 L278.54,460.3 L279.69,460.3 L280.84,460.3 L281.99,460.3 L283.14,460.3 L284.29,460.3 L285.44,460.3 L286.59,460.3 L287.74,460.3 L288.89,460.3 L290.04,460.3 L291.19,460.3 L292.34,460.3 L293.48,460.3 L294.63,460.3 L295.78,460.3 L296.93,460.3 L298.08,460.3 L299.23,460.3 L300.38,460.3 L301.53,460.3 L302.68,460.3 L303.83,460.3 L304.98,460.3 L306.13,460.3 L307.28,460.3 L308.43,460.3 L309.58,460.3 L310.73,460.3 L311.88,460.3 L313.03,460.3 L314.18,460.3 L315.33,460.3 L316.48,460.3 L317.63,460.3 L318.78,460.3 L319.93,460.3 L321.08,460.3 L322.23,460.3 L323.38,460.3 L324.53,460.3 L325.68,460.3 L326.83,460.3 L327.98,460.3 L329.13,460.3 L330.28,460.3 L331.42,460.3 L332.57,460.29 L333.72,460.28 L334.87,460.26 L336.02,460.24 L337.17,460.22 L338.32,460.19 L339.47,460.16 L340.62,460.13 L341.77,460.1 L342.92,460.06 L344.07,460.03 L345.22,459.99 L346.37,459.95 L347.52,459.89 L348.67,459.83 L349.82,459.76 L350.97,459.68 L352.12,459.6 L353.27,459.51 L354.42,459.42 L355.57,459.33 L356.72,459.24 L357.87,459.14 L359.02,459.03 L360.17,458.91 L361.32,458.78 L362.47,458.64 L363.62,458.48 L364.77,458.31 L365.92,458.1 L367.07,457.87 L368.22,457.62 L369.36,457.34 L370.51,457.04 L371.66,456.72 L372.81,456.37 L373.96,455.96 L375.11,455.5 L376.26,454.98 L377.41,454.42 L378.56,453.83 L379.71,453.21 L380.86,452.59 L382.01,451.94 L383.16,451.26 L384.31,450.54 L385.46,449.78 L386.61,448.99 L387.76,448.17 L388.91,447.32 L390.06,446.45 L391.21,445.53 L392.36,444.55 L393.51,443.51 L394.66,442.44 L395.81,441.36 L396.96,440.29 L398.11,439.23 L399.26,438.22 L400.41,437.27 L401.56,436.31 L402.71,435.35 L403.86,434.42 L405.01,433.52 L406.16,432.68 L407.31,431.92 L408.45,431.24 L409.6,430.58 L410.75,429.94 L411.9,429.34 L413.05,428.77 L414.2,428.27 L415.35,427.85 L416.5,427.51 L417.65,427.27 L418.8,427.04 L419.95,426.82 L421.1,426.62 L422.25,426.45 L423.4,426.3 L424.55,426.19 L425.7,426.12 L426.85,426.1 L428,426.16 L429.15,426.33 L430.3,426.58 L431.45,426.9 L432.6,427.26 L433.75,427.65 L434.9,428.06 L436.05,428.45 L437.2,428.84 L438.35,429.27 L439.5,429.75 L440.65,430.27 L441.8,430.8 L442.95,431.35 L444.1,431.9 L445.25,432.43 L446.39,432.94 L447.54,433.44 L448.69,433.93 L449.84,434.41 L450.99,434.9 L452.14,435.39 L453.29,435.88 L454.44,436.37 L455.59,436.87 L456.74,437.39 L457.89,437.92 L459.04,438.47 L460.19,439.02 L461.34,439.57 L462.49,440.12 L463.64,440.65 L464.79,441.17 L465.94,441.66 L467.09,442.13 L468.24,442.59 L469.39,443.04 L470.54,443.48 L471.69,443.91 L472.84,444.33 L473.99,444.74 L475.14,445.15 L476.29,445.54 L477.44,445.93 L478.59,446.31 L479.74,446.68 L480.89,447.04 L482.04,447.39 L483.19,447.74 L484.33,448.08 L485.48,448.41 L486.63,448.74 L487.78,449.06 L488.93,449.38 L490.08,449.69 L491.23,450 L492.38,450.3 L493.53,450.6 L494.68,450.9 L495.83,451.18 L496.98,451.47 L498.13,451.75 L499.28,452.04 L500.43,452.32 L501.58,452.6 L502.73,452.87 L503.88,453.13 L505.03,453.39 L506.18,453.63 L507.33,453.87 L508.48,454.09 L509.63,454.29 L510.78,454.49 L511.93,454.69 L513.08,454.87 L514.23,455.05 L515.38,455.22 L516.53,455.38 L517.68,455.53 L518.83,455.67 L519.98,455.8 L521.13,455.91 L522.27,456.02 L523.42,456.12 L524.57,456.21 L525.72,456.3 L526.87,456.39 L528.02,456.47 L529.17,456.54 L530.32,456.61 L531.47,456.68 L532.62,456.75 L533.77,456.81 L534.92,456.88 L536.07,456.94 L537.22,456.99 L538.37,457.05 L539.52,457.1 L540.67,457.16 L541.82,457.21 L542.97,457.26 L544.12,457.31 L545.27,457.37 L546.42,457.42 L547.57,457.47 L548.72,457.53 L549.87,457.58 L551.02,457.64 L552.17,457.7 L553.32,457.76 L554.47,457.82 L555.62,457.88 L556.77,457.95 L557.92,458.01 L559.07,458.07 L560.22,458.13 L561.36,458.19 L562.51,458.25 L563.66,458.31 L564.81,458.37 L565.96,458.42 L567.11,458.47 L568.26,458.52 L569.41,458.57 L570.56,458.61 L571.71,458.66 L572.86,458.7 L574.01,458.74 L575.16,458.78 L576.31,458.82 L577.46,458.86 L578.61,458.9 L579.76,458.94 L580.91,458.97 L582.06,459.01 L583.21,459.04 L584.36,459.07 L585.51,459.1 L586.66,459.13 L587.81,459.15 L588.96,459.18 L590.11,459.2 L591.26,459.22 L592.41,459.23 L593.56,459.25 L594.71,459.27 L595.86,459.29 L597.01,459.31 L598.16,459.33 L599.3,459.34 L600.45,459.36 L601.6,459.37 L602.75,459.39 L603.9,459.4 L605.05,459.42 L606.2,459.43 L607.35,459.44 L608.5,459.45 L609.65,459.46 L610.8,459.47 L611.95,459.48 L613.1,459.49 L614.25,459.49 L615.4,459.5 L616.55,459.5 L617.7,459.5" fill="none" stroke="#000" stroke-width="1.4" stroke-dasharray="4.9,2.05" />
<path d="M141.72,460.3 L142.87,460.3 L144.02,460.3 L145.17,460.3 L146.32,460.3 L147.47,460.3 L148.62,460.3 L149.77,460.3 L150.92,460.3 L152.07,460.3 L153.22,460.3 L154.37,460.3 L155.52,460.3 L156.67,460.3 L157.82,460.3 L158.97,460.3 L160.12,460.3 L161.27,460.3 L162.42,460.3 L163.57,460.3 L164.72,460.3 L165.87,460.3 L167.02,460.3 L168.17,460.3 L169.32,460.3 L170.47,460.3 L171.62,460.3 L172.77,460.3 L173.92,460.3 L175.07,460.3 L176.22,460.3 L177.37,460.3 L178.51,460.3 L179.66,460.3 L180.81,460.3 L181.96,460.3 L183.11,460.3 L184.26,460.3 L185.41,460.3 L186.56,460.3 L187.71,460.3 L188.86,460.3 L190.01,460.3 L191.16,460.3 L192.31,460.3 L193.46,460.3 L194.61,460.3 L195.76,460.3 L196.91,460.3 L198.06,460.3 L199.21,460.3 L200.36,460.3 L201.51,460.3 L202.66,460.3 L203.81,460.3 L204.96,460.3 L206.11,460.3 L207.26,460.3 L208.41,460.3 L209.56,460.3 L210.71,460.3 L211.86,460.3 L213.01,460.3 L214.16,460.3 L215.31,460.3 L216.45,460.3 L217.6,460.3 L218.75,460.3 L219.9,460.3 L221.05,460.3 L222.2,460.3 L223.35,460.3 L224.5,460.3 L225.65,460.3 L226.8,460.3 L227.95,460.3 L229.1,460.3 L230.25,460.3 L231.4,460.3 L232.55,460.3 L233.7,460.3 L234.85,460.3 L236,460.3 L237.15,460.3 L238.3,460.3 L239.45,460.3 L240.6,460.3 L241.75,460.3 L242.9,460.3 L244.05,460.3 L245.2,460.3 L246.35,460.3 L247.5,460.3 L248.65,460.3 L249.8,460.3 L250.95,460.3 L252.1,460.3 L253.25,460.3 L254.39,460.3 L255.54,460.3 L256.69,460.3 L257.84,460.3 L258.99,460.3 L260.14,460.3 L261.29,460.3 L262.44,460.3 L263.59,460.3 L264.74,460.3 L265.89,460.3 L267.04,460.3 L268.19,460.3 L269.34,460.3 L270.49,460.3 L271.64,460.3 L272.79,460.3 L273.94,460.3 L275.09,460.3 L276.24,460.3 L277.39,460.3 L278.54,460.3 L279.69,460.3 L280.84,460.3 L281.99,460.3 L283.14,460.3 L284.29,460.3 L285.44,460.3 L286.59,460.3 L287.74,460.3 L288.89,460.3 L290.04,460.3 L291.19,460.3 L292.34,460.3 L293.48,460.3 L294.63,460.3 L295.78,460.3 L296.93,460.3 L298.08,460.3 L299.23,460.3 L300.38,460.3 L301.53,460.3 L302.68,460.3 L303.83,460.3 L304.98,460.3 L306.13,460.3 L307.28,460.3 L308.43,460.3 L309.58,460.3 L310.73,460.3 L311.88,460.3 L313.03,460.3 L314.18,460.3 L315.33,460.3 L316.48,460.3 L317.63,460.3 L318.78,460.3 L319.93,460.3 L321.08,460.3 L322.23,460.3 L323.38,460.3 L324.53,460.3 L325.68,460.3 L326.83,460.3 L327.98,460.3 L329.13,460.3 L330.28,460.3 L331.42,460.3 L332.57,460.3 L333.72,460.3 L334.87,460.3 L336.02,460.3 L337.17,460.3 L338.32,460.3 L339.47,460.3 L340.62,460.3 L341.77,460.3 L342.92,460.3 L344.07,460.3 L345.22,460.3 L346.37,460.3 L347.52,460.3 L348.67,460.3 L349.82,460.3 L350.97,460.3 L352.12,460.3 L353.27,460.3 L354.42,460.3 L355.57,460.3 L356.72,460.3 L357.87,460.3 L359.02,460.3 L360.17,460.3 L361.32,460.3 L362.47,460.3 L363.62,460.3 L364.77,460.3 L365.92,460.3 L367.07,460.3 L368.22,460.3 L369.36,460.3 L370.51,460.3 L371.66,460.3 L372.81,460.3 L373.96,460.3 L375.11,460.3 L376.26,460.3 L377.41,460.3 L378.56,460.3 L379.71,460.3 L380.86,460.3 L382.01,460.29 L383.16,460.28 L384.31,460.26 L385.46,460.24 L386.61,460.22 L387.76,460.19 L388.91,460.17 L390.06,460.14 L391.21,460.1 L392.36,460.07 L393.51,460.04 L394.66,460.01 L395.81,459.98 L396.96,459.94 L398.11,459.91 L399.26,459.87 L400.41,459.82 L401.56,459.78 L402.71,459.72 L403.86,459.67 L405.01,459.6 L406.16,459.53 L407.31,459.45 L408.45,459.37 L409.6,459.27 L410.75,459.17 L411.9,459.06 L413.05,458.94 L414.2,458.82 L415.35,458.68 L416.5,458.53 L417.65,458.35 L418.8,458.14 L419.95,457.9 L421.1,457.63 L422.25,457.34 L423.4,457.03 L424.55,456.71 L425.7,456.37 L426.85,456.03 L428,455.68 L429.15,455.32 L430.3,454.95 L431.45,454.56 L432.6,454.14 L433.75,453.69 L434.9,453.22 L436.05,452.71 L437.2,452.16 L438.35,451.56 L439.5,450.92 L440.65,450.22 L441.8,449.5 L442.95,448.75 L444.1,447.99 L445.25,447.21 L446.39,446.44 L447.54,445.65 L448.69,444.83 L449.84,443.98 L450.99,443.12 L452.14,442.25 L453.29,441.37 L454.44,440.48 L455.59,439.59 L456.74,438.7 L457.89,437.79 L459.04,436.86 L460.19,435.92 L461.34,434.97 L462.49,434.04 L463.64,433.13 L464.79,432.25 L465.94,431.4 L467.09,430.58 L468.24,429.78 L469.39,428.99 L470.54,428.22 L471.69,427.47 L472.84,426.73 L473.99,426.02 L475.14,425.32 L476.29,424.62 L477.44,423.93 L478.59,423.29 L479.74,422.71 L480.89,422.21 L482.04,421.76 L483.19,421.34 L484.33,420.95 L485.48,420.58 L486.63,420.22 L487.78,419.88 L488.93,419.55 L490.08,419.22 L491.23,418.88 L492.38,418.54 L493.53,418.22 L494.68,417.94 L495.83,417.73 L496.98,417.56 L498.13,417.4 L499.28,417.26 L500.43,417.16 L501.58,417.1 L502.73,417.11 L503.88,417.14 L505.03,417.21 L506.18,417.3 L507.33,417.4 L508.48,417.52 L509.63,417.65 L510.78,417.79 L511.93,417.97 L513.08,418.21 L514.23,418.48 L515.38,418.78 L516.53,419.1 L517.68,419.42 L518.83,419.75 L519.98,420.07 L521.13,420.38 L522.27,420.72 L523.42,421.06 L524.57,421.42 L525.72,421.78 L526.87,422.14 L528.02,422.49 L529.17,422.84 L530.32,423.16 L531.47,423.48 L532.62,423.79 L533.77,424.09 L534.92,424.39 L536.07,424.69 L537.22,424.98 L538.37,425.27 L539.52,425.56 L540.67,425.84 L541.82,426.13 L542.97,426.41 L544.12,426.69 L545.27,426.97 L546.42,427.24 L547.57,427.51 L548.72,427.77 L549.87,428.03 L551.02,428.28 L552.17,428.52 L553.32,428.76 L554.47,429 L555.62,429.23 L556.77,429.46 L557.92,429.68 L559.07,429.89 L560.22,430.1 L561.36,430.3 L562.51,430.49 L563.66,430.68 L564.81,430.86 L565.96,431.04 L567.11,431.22 L568.26,431.4 L569.41,431.58 L570.56,431.76 L571.71,431.94 L572.86,432.13 L574.01,432.32 L575.16,432.51 L576.31,432.69 L577.46,432.88 L578.61,433.06 L579.76,433.23 L580.91,433.4 L582.06,433.57 L583.21,433.73 L584.36,433.89 L585.51,434.05 L586.66,434.2 L587.81,434.36 L588.96,434.51 L590.11,434.67 L591.26,434.83 L592.41,434.99 L593.56,435.15 L594.71,435.32 L595.86,435.48 L597.01,435.64 L598.16,435.8 L599.3,435.96 L600.45,436.12 L601.6,436.28 L602.75,436.44 L603.9,436.61 L605.05,436.77 L606.2,436.93 L607.35,437.09 L608.5,437.25 L609.65,437.41 L610.8,437.57 L611.95,437.73 L613.1,437.88 L614.25,438.04 L615.4,438.19 L616.55,438.35 L617.7,438.5" fill="none" stroke="#000" stroke-width="1.4" stroke-dasharray="4.9,2.05" />
<path d="M295.6,449.4 L301.8,449.4 L307.6,448.2 L315,447.9 L320.9,446.5 L328.2,445.7 L334.1,445.7 L340,445 L345.9,444.3 L351.8,442.4 L356.2,442.4 L360.6,440.9 L365,441.3 L370.9,442.8 L378.2,443.8 L385.6,445 L392.9,445 L396.5,444.3 L401.1,442.6 L407.2,440.2 L410.9,439.6 L417,440.8 L424.3,442.6 L431.6,444.5 L439,445.7 L446.3,448.1 L453.6,450 L461,450.6 L464.6,448.7 L468.3,442.6 L470.6,435.3 L475.4,431.3 L481.8,428.9 L486.6,428.6 L489.8,426.5 L494,431.1 L498,434.5 L502,438.1 L506,441.2 L510.1,443.8 L516.1,446.2 L524.1,448.6 L534.1,450.2 L546.1,451.2 L560.2,451.8 L580.2,452.6 L600.3,453.2 L620.3,453.4 L636,453.4" fill="none" stroke="#b5174a" stroke-width="2.4" />
<path d="M295.6,429.1 L300.3,430.3 L304.7,430 L309.1,429.1 L314.3,427.6 L319.4,423.7 L323.5,419.3 L327.5,421.2 L331.5,418.8 L335.6,422.6 L340,421.8 L344.4,420 L348.1,418.5 L351,414.1 L355.4,412.4 L359.1,407.9 L363.5,408.5 L367.2,410 L372.4,414.9 L378.2,420.7 L384.1,424.4 L390,426.6 L394.4,425.6 L397,423 L399.9,417 L404.8,406 L408.4,398.1 L410.6,394.1 L414.5,396.3 L418.8,398.4 L422.5,397.7 L425.5,402 L430.4,408.5 L435.3,412 L440.2,418.2 L445.1,424.3 L450,430.4 L454.8,433.8 L457.9,434.3 L461.6,431 L464,423.1 L465.8,410.9 L468,403 L470.2,394.5 L473.6,383.3 L478.1,371 L482.5,365.4 L486.3,363.2 L489.2,365.4 L491.9,374.4 L494.8,383.3 L498.2,388.5 L501,398 L504,408.1 L508,417.1 L512.1,422.1 L518.1,427.7 L526.1,432.5 L534.1,436.1 L542.1,438.6 L550.2,440.2 L560.2,441.8 L570.2,442.6 L580.2,443.2 L590.3,443.8 L600.3,444.2 L610.3,444.6 L620.3,444.6 L628.4,445.2 L636,446.2" fill="none" stroke="#fb8150" stroke-width="2.4" />
<path d="M295.6,409.7 L300,413.8 L304,411.9 L308.4,412.9 L312.8,412.4 L317.2,410.4 L320.9,407.5 L323.8,405 L327.5,405.3 L331.2,403.8 L334.9,406.5 L338.5,407.1 L342.9,406 L347.4,405 L351.8,401.6 L356.2,398.7 L359.6,394 L365.6,393.5 L369.6,396.6 L375.3,400.9 L381.2,405 L387.1,408.2 L391.5,409.4 L395,408 L399.9,400.2 L403.5,391.6 L407.2,379.4 L410.6,369.7 L414.5,377 L418.2,370.3 L422.8,368.2 L426.1,373.9 L429.8,378.8 L434.1,381.3 L439,389.2 L443.9,396.5 L448.7,402.6 L453.6,407.5 L457.9,409.7 L461.6,407.5 L463.2,401 L464.6,385.5 L466.9,363.2 L469.1,340.8 L473.6,329.6 L475.8,313.9 L477.6,303.8 L481.4,315.7 L485.4,305 L489.2,307.2 L492.6,330.7 L496,337.4 L499.3,346.4 L504.9,363.2 L510.1,378 L516.1,390 L522.1,398 L530.1,406.1 L540.1,412.1 L550.2,416.5 L560.2,419.1 L570.2,421.1 L580.2,422.1 L590.3,422.5 L600.3,423.7 L610.3,425.1 L618.3,426.5 L622.3,425.1 L628.4,426.5 L636,426.1" fill="none" stroke="#fee695" stroke-width="2.4" />
<path d="M295.6,434.7 L300.3,432.9 L304.7,432.1 L309.1,431.8 L314.3,430.3 L319.4,427.6 L323.8,425.6 L328.2,426.6 L331.9,426.2 L337.1,428.1 L341.5,428.1 L345.9,426.6 L350.3,424.4 L354.7,421.5 L359.1,417.8 L362.8,418.8 L366.5,418.8 L372.4,422.2 L378.2,424.4 L384.1,427.6 L390,429.1 L395,428 L399.9,421.9 L404.8,413.3 L408.4,406.6 L410.9,403.5 L414.5,415.8 L417.6,405.4 L421.3,402.9 L425.5,403.8 L430.4,407.2 L435.3,409 L440.2,413.3 L445.1,418.8 L450,424.3 L453.6,427 L457.9,427 L462.2,426.1 L464,419.4 L465.8,407.2 L468,390 L470.2,378.8 L473.6,372.1 L475.8,358.7 L477.6,350.2 L481.4,358.7 L485.4,349.7 L489.2,355.3 L492.6,369.9 L498.2,380 L502,388 L506,397 L510.1,403.1 L516.1,412.1 L522.1,418.1 L530.1,424.5 L540.1,430.1 L550.2,434.1 L560.2,436.5 L570.2,438.2 L580.2,438.6 L590.3,439.8 L600.3,440.6 L610.3,441.8 L620.3,442.6 L628.4,442.6 L636,445.2" fill="none" stroke="#c9e99e" stroke-width="2.4" />
<path d="M295.6,445.7 L300.3,444.7 L304.7,445 L308.4,444.3 L312.8,445 L317.9,444.7 L323.8,443.2 L328.2,443.8 L332.6,443.5 L336.3,445 L340.7,445 L345.9,443.8 L350.3,442.4 L355.4,440.6 L359.1,438.8 L363.5,439.1 L369.4,440.6 L375.3,442.1 L381.2,443.2 L387.1,445 L392.9,445.7 L396,444.8 L399.9,443.2 L404.8,439.6 L407.8,437.1 L410.6,434.7 L413.9,437.7 L418.2,434.1 L422.5,432.3 L426.8,432.6 L431.6,433.1 L437.1,432.9 L442.6,435.3 L448.7,437.1 L454.8,438.4 L461,438.4 L464,435.3 L467.1,428 L469.5,421.9 L472.2,419.3 L475,412.1 L477,407.2 L481,406.4 L486.6,401.9 L490,405.1 L493,410.1 L497,412.1 L502,417.1 L508,421.1 L514.1,426.5 L520.1,430.1 L526.1,433.7 L532.1,435.7 L538.1,438.1 L544.1,441.2 L548.2,444.2 L554.2,443.8 L560.2,445.2 L565.2,447.8 L570.2,446.2 L576.2,447.2 L582.2,448.2 L588.3,449.2 L592.3,451.2 L598.3,449.8 L604.3,451.8 L608.3,450.6 L613.3,452.2 L616.3,453.2 L622.3,451.2 L628.4,452.2 L636,453.2" fill="none" stroke="#3c93b8" stroke-width="2.4" />
</g>
<path d="M363.4,327V349.4" stroke="#9932cc" stroke-width="1.5"/>
<path d="M363.4,334.1L367.6,338.3L363.4,342.5L359.2,338.3Z" fill="#9932cc"/>
<path d="M418.7,382.1V400.8" stroke="#9932cc" stroke-width="1.5"/>
<path d="M418.7,387.1L422.9,391.3L418.7,395.5L414.5,391.3Z" fill="#9932cc"/>
<path d="M477.7,426.3L481.9,430.5L477.7,434.7L473.5,430.5Z" fill="#9932cc"/>
<path d="M635.5,296.5H43.5V468.5H635.5" fill="none" stroke="#000" stroke-width="1"/>
<path d="M635.5,296V469" fill="none" stroke="#111" stroke-width="1"/>
<text x="58.7" y="481.9" font-size="10" font-weight="bold" text-anchor="middle" fill="#000" >19:20</text>
<text x="126.9" y="481.9" font-size="10" font-weight="bold" text-anchor="middle" fill="#000" >19:23</text>
<text x="195.1" y="481.9" font-size="10" font-weight="bold" text-anchor="middle" fill="#000" >19:26</text>
<text x="263.3" y="481.9" font-size="10" font-weight="bold" text-anchor="middle" fill="#000" >19:29</text>
<text x="331.5" y="481.9" font-size="10" font-weight="bold" text-anchor="middle" fill="#000" >19:32</text>
<text x="399.7" y="481.9" font-size="10" font-weight="bold" text-anchor="middle" fill="#000" >19:35</text>
<text x="467.9" y="481.9" font-size="10" font-weight="bold" text-anchor="middle" fill="#000" >19:37</text>
<text x="536.1" y="481.9" font-size="10" font-weight="bold" text-anchor="middle" fill="#000" >19:40</text>
<text x="604.3" y="481.9" font-size="10" font-weight="bold" text-anchor="middle" fill="#000" >19:43</text>
<text x="37.6" y="464.6" font-size="9.65" font-weight="bold" text-anchor="end" fill="#000" >0</text>
<text x="37.6" y="439.68" font-size="9.65" font-weight="bold" text-anchor="end" fill="#000" >500</text>
<text x="37.6" y="414.76" font-size="9.65" font-weight="bold" text-anchor="end" fill="#000" >1000</text>
<text x="37.6" y="389.84" font-size="9.65" font-weight="bold" text-anchor="end" fill="#000" >1500</text>
<text x="37.6" y="364.92" font-size="9.65" font-weight="bold" text-anchor="end" fill="#000" >2000</text>
<text x="37.6" y="340" font-size="9.65" font-weight="bold" text-anchor="end" fill="#000" >2500</text>
<text x="37.6" y="315.08" font-size="9.65" font-weight="bold" text-anchor="end" fill="#000" >3000</text>
<text x="641.8" y="471.2" font-size="9.8" font-weight="bold" text-anchor="start" fill="#000" >0</text>
<text x="641.8" y="442.65" font-size="9.8" font-weight="bold" text-anchor="start" fill="#000" >20</text>
<text x="641.8" y="414.1" font-size="9.8" font-weight="bold" text-anchor="start" fill="#000" >40</text>
<text x="641.8" y="385.55" font-size="9.8" font-weight="bold" text-anchor="start" fill="#000" >60</text>
<text x="641.8" y="357" font-size="9.8" font-weight="bold" text-anchor="start" fill="#000" >80</text>
<text x="641.8" y="328.45" font-size="9.8" font-weight="bold" text-anchor="start" fill="#000" >100</text>
<path d="M58.7,296.5v-3.4M58.7,468.5v3.4M126.9,296.5v-3.4M126.9,468.5v3.4M195.1,296.5v-3.4M195.1,468.5v3.4M263.3,296.5v-3.4M263.3,468.5v3.4M331.5,296.5v-3.4M331.5,468.5v3.4M399.7,296.5v-3.4M399.7,468.5v3.4M467.9,296.5v-3.4M467.9,468.5v3.4M536.1,296.5v-3.4M536.1,468.5v3.4M604.3,296.5v-3.4M604.3,468.5v3.4M43.5,460.7h-3.4M43.5,435.78h-3.4M43.5,410.86h-3.4M43.5,385.94h-3.4M43.5,361.02h-3.4M43.5,336.1h-3.4M43.5,311.18h-3.4M635.5,467.2h3.4M635.5,438.65h3.4M635.5,410.1h3.4M635.5,381.55h3.4M635.5,353h3.4M635.5,324.45h3.4" stroke="#000" stroke-width="1.1" fill="none"/>
<path d="M695.1,296.5V468.9" stroke="#808080" stroke-width="1.3"/>
<text x="700.7" y="458.6" font-size="9.8" font-weight="bold" text-anchor="start" fill="#000" >4</text>
<text x="700.7" y="429.8" font-size="9.8" font-weight="bold" text-anchor="start" fill="#000" >6</text>
<text x="700.7" y="401" font-size="9.8" font-weight="bold" text-anchor="start" fill="#000" >8</text>
<text x="700.7" y="372.2" font-size="9.8" font-weight="bold" text-anchor="start" fill="#000" >10</text>
<text x="700.7" y="343.4" font-size="9.8" font-weight="bold" text-anchor="start" fill="#000" >12</text>
<text x="700.7" y="314.6" font-size="9.8" font-weight="bold" text-anchor="start" fill="#000" >14</text>
<path d="M695.1,454.6h3.4M695.1,425.8h3.4M695.1,397h3.4M695.1,368.2h3.4M695.1,339.4h3.4M695.1,310.6h3.4" stroke="#000" stroke-width="1.1" fill="none"/>
<text transform="translate(673.3,383) rotate(-90)" font-size="9.9" text-anchor="middle" font-weight="normal">EOVSA Lightcurve [sfu]</text>
<text transform="translate(724.7,383.2) rotate(-90)" font-size="10.5" text-anchor="middle" font-weight="bold" font-style="italic">δ</text>
<text x="596.4" y="313.3" font-size="11.5" font-weight="bold" text-anchor="start" fill="#fff" >(B)</text>
<rect x="47.1" y="299.5" width="129.6" height="32" rx="1.5" fill="#fff" fill-opacity="0.8" stroke="#ccc" stroke-opacity="0.8" stroke-width="0.8"/>
<path d="M49.6,305.3H63.9" stroke="#ffa500" stroke-width="2.3" stroke-dasharray="8.1,3.2"/>
<path d="M49.6,315.4H63.9" stroke="#800080" stroke-width="1.6" stroke-dasharray="4.9,2.05"/>
<path d="M49.6,325.3H63.9" stroke="#000" stroke-width="1.6" stroke-dasharray="4.9,2.05"/>
<text x="69.2" y="307.8" font-size="6.82" font-weight="bold" text-anchor="start" fill="#000" >RHESSI 20 - 35 keV</text>
<text x="69.2" y="317.8" font-size="6.82" font-weight="bold" text-anchor="start" fill="#000" >Best Fit</text>
<text x="69.2" y="327.8" font-size="6.82" font-weight="bold" text-anchor="start" fill="#000" >Main/Post Impulsive Bursts</text>
<rect x="47" y="413.7" width="94.3" height="51.2" rx="1.5" fill="#fff" fill-opacity="0.8" stroke="#ccc" stroke-opacity="0.8" stroke-width="0.8"/>
<path d="M49.3,418.8H64.3" stroke="#b5174a" stroke-width="2.1"/>
<text x="69.2" y="421.2" font-size="6.82" font-weight="bold" text-anchor="start" fill="#000" >EOVSA@ 3.4 GHz</text>
<path d="M49.3,428.75H64.3" stroke="#fb8150" stroke-width="2.1"/>
<text x="69.2" y="431.15" font-size="6.82" font-weight="bold" text-anchor="start" fill="#000" >EOVSA@ 6.4 GHz</text>
<path d="M49.3,438.7H64.3" stroke="#fee695" stroke-width="2.1"/>
<text x="69.2" y="441.1" font-size="6.82" font-weight="bold" text-anchor="start" fill="#000" >EOVSA@ 9.4 GHz</text>
<path d="M49.3,448.65H64.3" stroke="#c9e99e" stroke-width="2.1"/>
<text x="69.2" y="451.05" font-size="6.82" font-weight="bold" text-anchor="start" fill="#000" >EOVSA@ 12.4 GHz</text>
<path d="M49.3,458.6H64.3" stroke="#3c93b8" stroke-width="2.1"/>
<text x="69.2" y="461" font-size="6.82" font-weight="bold" text-anchor="start" fill="#000" >EOVSA@ 15.9 GHz</text>
<rect x="544" y="376.6" width="88.2" height="12" rx="1.5" fill="#fff" fill-opacity="0.8" stroke="#ccc" stroke-opacity="0.8" stroke-width="0.8"/>
<path d="M553.4,378.1L557.4,382.1L553.4,386.1L549.4,382.1Z" fill="#9932cc"/>
<text x="566" y="384.6" font-size="6.82" font-weight="bold" text-anchor="start" fill="#000" >Power-law Index</text>
</svg>
</body></html>
